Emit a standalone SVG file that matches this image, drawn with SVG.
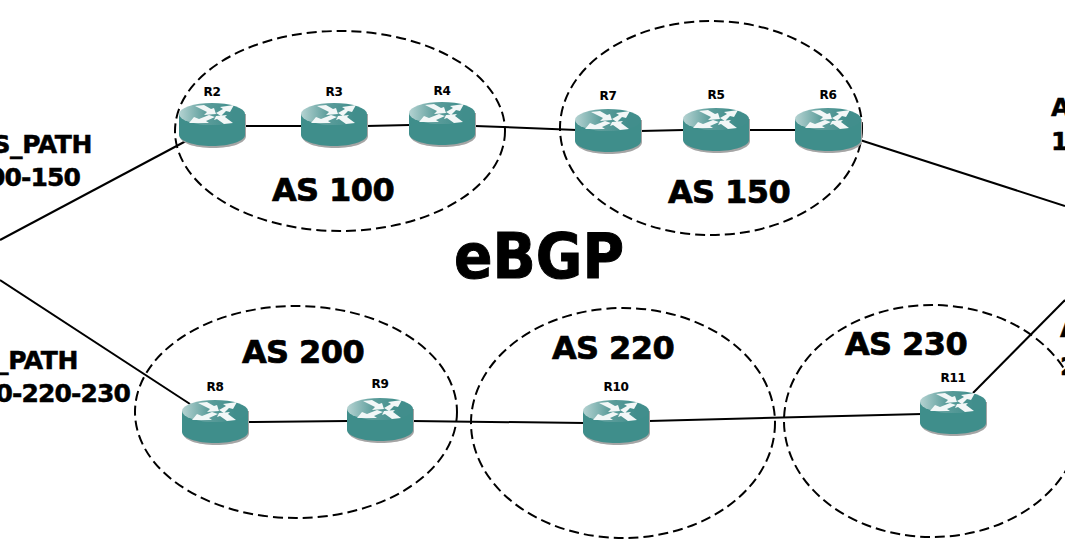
<svg xmlns="http://www.w3.org/2000/svg" width="1065" height="559" viewBox="0 0 1065 559">
<style>
text{font-family:"DejaVu Sans","Liberation Sans",sans-serif;font-weight:700;fill:#000;stroke:#000}
.as{font-size:32px;text-anchor:middle;letter-spacing:-.6px;stroke-width:.7px}
.big{font-size:25px;letter-spacing:-.9px;stroke-width:.5px}
.path{letter-spacing:-.4px}
.r{font-size:12px;text-anchor:middle;stroke-width:.1px;letter-spacing:-.3px}
.e{font-size:62px;text-anchor:middle;stroke-width:1px}
.cloud{fill:none;stroke:#000;stroke-width:2;stroke-dasharray:10 5}
.link{fill:none;stroke:#000;stroke-width:2}
</style>
<defs>
<linearGradient id="top" x1="0" y1="0" x2="1" y2="0"><stop offset="0" stop-color="#b5d3d2"/><stop offset=".4" stop-color="#5c9d9b"/><stop offset=".8" stop-color="#418e8c"/></linearGradient>
<g id="router">
<path d="M-32 11V33C-32 40-18 45 1 45S34 40 34 33V11Z" fill="#a5a5a5"/>
<path d="M-33 11V32C-33 38-18 43 0 43S33 38 33 32V11Z" fill="#3f8e8b"/>
<ellipse cx="0" cy="11" rx="33" ry="11" fill="url(#top)"/>
<path d="M-17 3L-8 2-1 6 2 5 4 11-8 12-5 9ZM4 10L11 6 8 4 22 2 18 9 14 8 9 13ZM-3 12L3 14-6 18-3 20-23 20-18 14-13 16ZM4 13L15 12 13 14 21 20 12 21 5 16 2 17Z" fill="#f2f7f7"/>
</g>
</defs>
<g id="connectors">
<path class="link" d="M0 240L186 141"/>
<path class="link" d="M0 280L190 404"/>
<path class="link" d="M245 126H302"/>
<path class="link" d="M366 126L410 125"/>
<path class="link" d="M475 126L577 130"/>
<path class="link" d="M640 131L684 130"/>
<path class="link" d="M749 130H796"/>
<path class="link" d="M860 140L1065 206"/>
<path class="link" d="M247 422L348 421"/>
<path class="link" d="M412 421L585 423"/>
<path class="link" d="M649 421L922 414"/>
<path class="link" d="M973 393L1065 300"/>
</g>
<g id="as100"><ellipse class="cloud" cx="340" cy="131" rx="165" ry="100"/><text class="as" x="333" y="201">AS 100</text></g>
<g id="as150"><ellipse class="cloud" cx="711" cy="128" rx="151" ry="107"/><text class="as" x="729" y="203">AS 150</text></g>
<g id="as200"><ellipse class="cloud" cx="296" cy="412" rx="161" ry="106"/><text class="as" x="303" y="363">AS 200</text></g>
<g id="as220"><ellipse class="cloud" cx="623" cy="423" rx="152" ry="115"/><text class="as" x="613" y="359">AS 220</text></g>
<g id="as230"><ellipse class="cloud" cx="932" cy="421" rx="148" ry="116"/><text class="as" x="906" y="355">AS 230</text></g>
<g id="R2"><use href="#router" x="212" y="103"/><text class="r" x="212" y="96">R2</text></g>
<g id="R3"><use href="#router" x="334" y="103"/><text class="r" x="334" y="96">R3</text></g>
<g id="R4"><use href="#router" x="442" y="102"/><text class="r" x="442" y="95">R4</text></g>
<g id="R7"><use href="#router" x="608" y="109"/><text class="r" x="608" y="100">R7</text></g>
<g id="R5"><use href="#router" x="716" y="108"/><text class="r" x="716" y="99">R5</text></g>
<g id="R6"><use href="#router" x="828" y="108"/><text class="r" x="828" y="99">R6</text></g>
<g id="R8"><use href="#router" x="215" y="400"/><text class="r" x="215" y="391">R8</text></g>
<g id="R9"><use href="#router" x="380" y="398"/><text class="r" x="380" y="388">R9</text></g>
<g id="R10"><use href="#router" x="616" y="400"/><text class="r" x="616" y="391">R10</text></g>
<g id="R11"><use href="#router" x="953" y="391"/><text class="r" x="953" y="382">R11</text></g>
<text class="e" x="539" y="278" textLength="170" lengthAdjust="spacingAndGlyphs">eBGP</text>
<text class="big path" x="92" y="153" text-anchor="end">AS_PATH</text>
<text class="big" x="80" y="186" text-anchor="end">100-150</text>
<text class="big path" x="78" y="369" text-anchor="end">AS_PATH</text>
<text class="big" x="130" y="402" text-anchor="end">200-220-230</text>
<text class="big" x="1051" y="116">A</text>
<text class="big" x="1051" y="150">1</text>
<text class="big" x="1060" y="337">A</text>
<text class="big" x="1060" y="375">2</text>
</svg>
